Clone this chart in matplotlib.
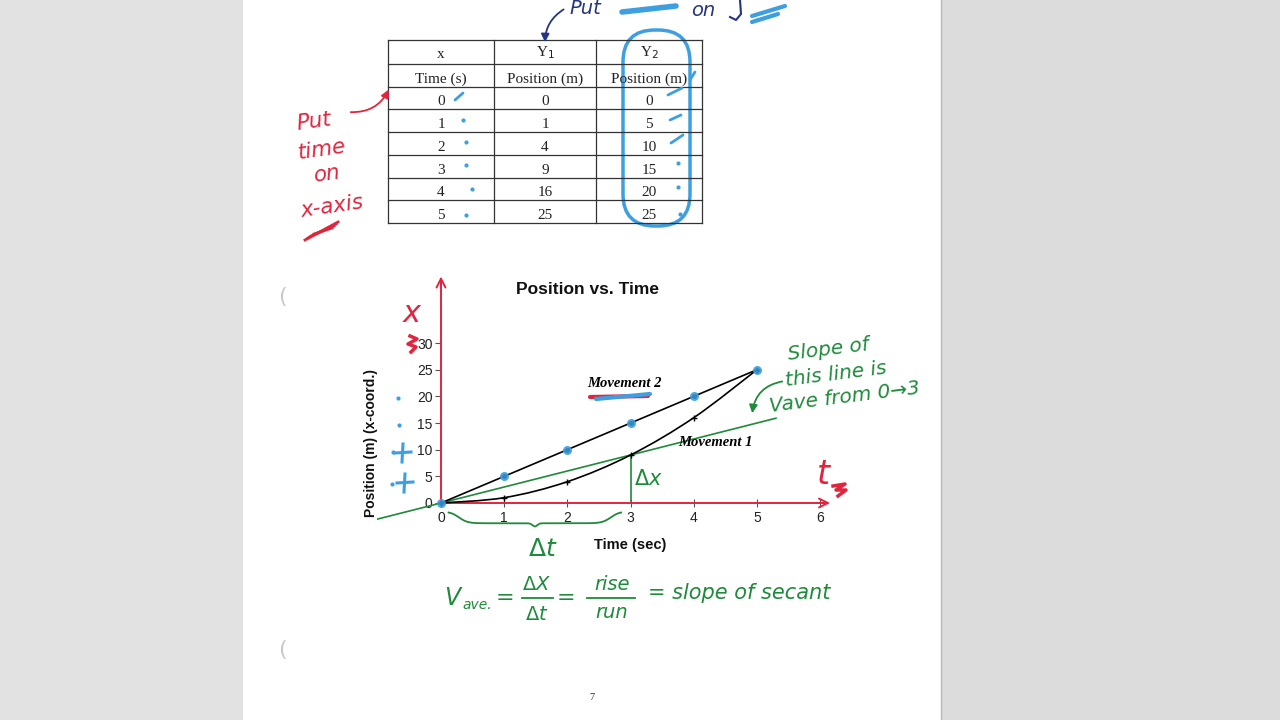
import numpy as np
import matplotlib
matplotlib.use("Agg")
import matplotlib.pyplot as plt
from matplotlib.path import Path
from matplotlib.patches import PathPatch, FancyBboxPatch, Rectangle

# table / chart data
time_s = [0, 1, 2, 3, 4, 5]
pos_y1 = [0, 1, 4, 9, 16, 25]
pos_y2 = [0, 5, 10, 15, 20, 25]
xticks = [0, 1, 2, 3, 4, 5, 6]
yticks = [0, 5, 10, 15, 20, 25, 30]
secant_x = [-1, 5.3]
secant_slope = 3

RED = "#e0263f"
GREEN = "#1f8a3c"
BLUE = "#3d9fe0"
NAVY = "#25357f"
HAND = "DejaVu Sans"

fig = plt.figure(figsize=(12.8, 7.2), dpi=100)
fig.patch.set_facecolor("#dedede")

# background axes in pixel coords
bg = fig.add_axes([0, 0, 1, 1], zorder=0)
bg.set_xlim(0, 1280)
bg.set_ylim(720, 0)
bg.axis("off")
bg.add_patch(Rectangle((0, 0), 243, 720, color="#e2e2e2", lw=0))
bg.add_patch(Rectangle((243, 0), 698, 720, color="white", lw=0))
bg.add_patch(Rectangle((941, 0), 339, 720, color="#dcdcdc", lw=0))
bg.plot([941, 941], [0, 720], color="#b8b8b8", lw=1)

# hole punch marks
for hy in [297, 650]:
    bg.text(282, hy, "(", fontsize=16, color="#c8c8c8", ha="center", va="center")

# ---- table ----
cols = [388, 494, 596, 702]
rows = [40, 64, 87, 109, 132, 155, 178, 200, 223]
for r in rows:
    bg.plot([cols[0], cols[-1]], [r, r], color="#333", lw=0.9)
for c in cols:
    bg.plot([c, c], [rows[0], rows[-1]], color="#333", lw=0.9)
centers = [(cols[i] + cols[i + 1]) / 2 for i in range(3)]
serif = dict(family="Liberation Serif", fontsize=11, color="#222")
for cx, h1 in zip(centers, ["x", "Y$_1$", "Y$_2$"]):
    bg.text(cx, rows[1] - 3, h1, ha="center", va="bottom", **serif)
for cx, h2 in zip(centers, ["Time (s)", "Position (m)", "Position (m)"]):
    bg.text(cx, rows[2] - 1, h2, ha="center", va="bottom", **serif)
for i in range(len(time_s)):
    base = rows[i + 3] - 1
    bg.text(centers[0], base, str(time_s[i]), ha="center", va="bottom", **serif)
    bg.text(centers[1], base, str(pos_y1[i]), ha="center", va="bottom", **serif)
    bg.text(centers[2], base, str(pos_y2[i]), ha="center", va="bottom", **serif)

# blue oval around Y2
bg.add_patch(FancyBboxPatch((623, 30), 67, 196, boxstyle="round,pad=0,rounding_size=32",
                            fill=False, ec=BLUE, lw=2.5))
# blue tick marks in table
for (x0, y0, x1, y1) in [(455, 100, 463, 93), (668, 95, 682, 88), (670, 120, 681, 115),
                         (671, 143, 683, 135), (690, 80, 695, 72)]:
    bg.plot([x0, x1], [y0, y1], color=BLUE, lw=2, solid_capstyle="round")
for (dx, dy) in [(463, 120), (466, 142), (466, 165), (472, 189), (466, 215),
                 (678, 163), (678, 187), (680, 214)]:
    bg.plot(dx, dy, "o", color=BLUE, ms=2)

# red note "Put time on x-axis"
for txt, tx, ty in [("Put", 314, 122), ("time", 322, 150), ("on", 326, 174), ("x-axis", 332, 207)]:
    bg.text(tx, ty, txt, color=RED, fontsize=15.5, family=HAND, style="italic",
            ha="center", va="center", rotation=8, fontweight="light")
bg.annotate("", xy=(390, 87), xytext=(348, 112),
            arrowprops=dict(arrowstyle="-|>", color=RED, lw=1.3,
                            connectionstyle="arc3,rad=0.35", mutation_scale=12))
for k in range(4):
    bg.plot([305 + k * 3, 338 - k * 2], [240 - k * 2, 222 + k * 2], color=RED, lw=2)

# navy note at the top
bg.text(585, 9, "Put", color=NAVY, fontsize=14, family=HAND, style="italic", ha="center", va="center")
bg.text(703, 11, "on", color=NAVY, fontsize=14, family=HAND, style="italic", ha="center", va="center")
bg.plot([740, 741, 736, 730], [0, 14, 20, 17], color=NAVY, lw=1.5)
bg.annotate("", xy=(545, 45), xytext=(566, 8),
            arrowprops=dict(arrowstyle="-|>", color=NAVY, lw=1.3,
                            connectionstyle="arc3,rad=0.3", mutation_scale=12))
bg.plot([622, 676], [12, 6], color=BLUE, lw=4, solid_capstyle="round")
bg.plot([752, 785], [16, 6], color=BLUE, lw=3, solid_capstyle="round")
bg.plot([752, 778], [22, 14], color=BLUE, lw=3, solid_capstyle="round")

# page number
bg.text(592, 698, "7", family="Liberation Serif", fontsize=7.5, color="#333", ha="center", va="center")

# ---- chart ----
x0px, ppx = 441, 63.2
y0px, ppy = 503, 5.333
xl, yl = (-1.1, 6.6), (-4, 44)
left = x0px + xl[0] * ppx
bottom = y0px - yl[0] * ppy
w = (xl[1] - xl[0]) * ppx
h = (yl[1] - yl[0]) * ppy
ax = fig.add_axes([left / 1280, (720 - bottom) / 720, w / 1280, h / 720], zorder=2)
ax.set_xlim(*xl)
ax.set_ylim(*yl)
ax.patch.set_alpha(0)
for s in ["top", "right"]:
    ax.spines[s].set_visible(False)
ax.spines["left"].set_position(("data", 0))
ax.spines["bottom"].set_position(("data", 0))
ax.spines["left"].set_bounds(0, 41.5)
ax.spines["bottom"].set_bounds(0, 6.1)
for s in ["left", "bottom"]:
    ax.spines[s].set_color(RED)
    ax.spines[s].set_linewidth(1.4)
ax.annotate("", xy=(0, 43), xytext=(0, 40),
            arrowprops=dict(arrowstyle="->", color=RED, lw=1.4, mutation_scale=16))
ax.annotate("", xy=(6.2, 0), xytext=(5.9, 0),
            arrowprops=dict(arrowstyle="->", color=RED, lw=1.4, mutation_scale=16))
ax.set_xticks(xticks)
ax.set_yticks(yticks)
ax.tick_params(axis="x", direction="inout", length=6, color="#555", labelsize=10, pad=3)
ax.tick_params(axis="y", direction="out", length=4, color="#555", labelsize=10, pad=2)
for lab in ax.get_xticklabels() + ax.get_yticklabels():
    lab.set_family("Liberation Sans")
    lab.set_color("#222")

# movement 2: straight line
ax.plot(time_s, pos_y2, color="black", lw=1.2, marker="o", ms=2.5, zorder=3)
# movement 1: smoothed curve through points
pts = np.column_stack([time_s, pos_y1]).astype(float)
verts = [pts[0]]
codes = [Path.MOVETO]
n = len(pts)
for i in range(n - 1):
    p_prev = pts[max(i - 1, 0)]
    p0, p1 = pts[i], pts[i + 1]
    p_next = pts[min(i + 2, n - 1)]
    verts += [p0 + (p1 - p_prev) / 6, p1 - (p_next - p0) / 6, p1]
    codes += [Path.CURVE4] * 3
ax.add_patch(PathPatch(Path(verts, codes), fill=False, ec="black", lw=1.2, zorder=3))
ax.plot(time_s, pos_y1, "+", color="black", ms=4, mew=1, zorder=3)

# blue pen dots on movement 2
ax.plot(time_s, pos_y2, "o", color=BLUE, ms=5.5, alpha=0.85, zorder=4)

# secant line and delta x
sx = np.array(secant_x)
ax.plot(sx, secant_slope * sx, color=GREEN, lw=1.2, zorder=2, clip_on=False)
ax.plot([3, 3], [0, secant_slope * 3], color=GREEN, lw=1.2, zorder=2)

# brace for delta t
t = np.linspace(0, 1, 200)
bx = 0.12 + t * (2.85 - 0.12)
half = np.where(t < 0.5, t, 1 - t)
by = -1.6 - 2.2 * (1 / (1 + np.exp(-40 * (half - 0.06)))) - 0.6 * np.exp(-((t - 0.5) / 0.02) ** 2)
ax.plot(bx, by, color=GREEN, lw=1.3, clip_on=False)

ax.text(2.9, 22.4, "Movement 2", family="Liberation Serif", style="italic", fontweight="bold",
        fontsize=10.5, ha="center", va="center")
ax.text(4.35, 11.3, "Movement 1", family="Liberation Serif", style="italic", fontweight="bold",
        fontsize=10.5, ha="center", va="center")

# titles as printed text
bg.text(587, 289, "Position vs. Time", family="Liberation Sans", fontweight="bold", fontsize=12.5,
        ha="center", va="center", color="#111")
bg.text(630, 545, "Time (sec)", family="Liberation Sans", fontweight="bold", fontsize=10.5,
        ha="center", va="center", color="#111")
bg.text(371, 443, "Position (m) (x-coord.)", family="Liberation Sans", fontweight="bold", fontsize=10,
        ha="center", va="center", rotation=90, color="#111")

# pen marks on the chart
bg.plot([590, 648], [397, 396], color=RED, lw=3, solid_capstyle="round")
bg.plot([596, 650], [399, 394], color=BLUE, lw=3, solid_capstyle="round")
bg.text(412, 313, "x", color=RED, fontsize=22, family=HAND, style="italic", ha="center", va="center",
        fontweight="light")
bg.plot([410, 417, 408, 416, 411], [336, 339, 344, 347, 352], color=RED, lw=2.5)
bg.text(823, 474, "t", color=RED, fontsize=24, family=HAND, style="italic", ha="center", va="center",
        fontweight="light")
bg.plot([833, 845, 836, 846, 838], [486, 484, 490, 490, 496], color=RED, lw=2.5)
for (cx, cy) in [(403, 453), (405, 483)]:
    bg.plot([cx - 8, cx + 8], [cy, cy - 1], color=BLUE, lw=2.2)
    bg.plot([cx, cx - 1], [cy - 9, cy + 9], color=BLUE, lw=2.2)
for (dx, dy) in [(398, 398), (399, 425), (393, 452), (392, 484)]:
    bg.plot(dx, dy, "o", color=BLUE, ms=2)

# green handwriting
gk = dict(color=GREEN, family=HAND, style="italic", fontweight="light")
bg.text(648, 479, r"$\Delta$x", fontsize=15, ha="center", va="center", **gk)
bg.text(543, 549, r"$\Delta$t", fontsize=18, ha="center", va="center", **gk)
for txt, tx, ty in [("Slope of", 828, 350), ("this line is", 836, 374), ("Vave from 0→3", 845, 397)]:
    bg.text(tx, ty, txt, fontsize=14.5, ha="center", va="center", rotation=7, **gk)
bg.annotate("", xy=(752, 416), xytext=(785, 381),
            arrowprops=dict(arrowstyle="-|>", color=GREEN, lw=1.3,
                            connectionstyle="arc3,rad=0.4", mutation_scale=12))

bg.text(444, 598, "V", fontsize=17, ha="left", va="center", **gk)
bg.text(462, 605, "ave.", fontsize=10, ha="left", va="center", **gk)
bg.text(505, 598, "=", fontsize=16, ha="center", va="center", **gk)
bg.text(537, 584, r"$\Delta$X", fontsize=14, ha="center", va="center", **gk)
bg.plot([522, 553], [598, 598], color=GREEN, lw=1.3)
bg.text(537, 614, r"$\Delta$t", fontsize=14, ha="center", va="center", **gk)
bg.text(566, 598, "=", fontsize=16, ha="center", va="center", **gk)
bg.text(612, 584, "rise", fontsize=14, ha="center", va="center", **gk)
bg.plot([587, 635], [598, 598], color=GREEN, lw=1.3)
bg.text(612, 613, "run", fontsize=14, ha="center", va="center", **gk)
bg.text(648, 593, "= slope of secant", fontsize=15, ha="left", va="center", **gk)

fig.savefig("out.png", dpi=100)
